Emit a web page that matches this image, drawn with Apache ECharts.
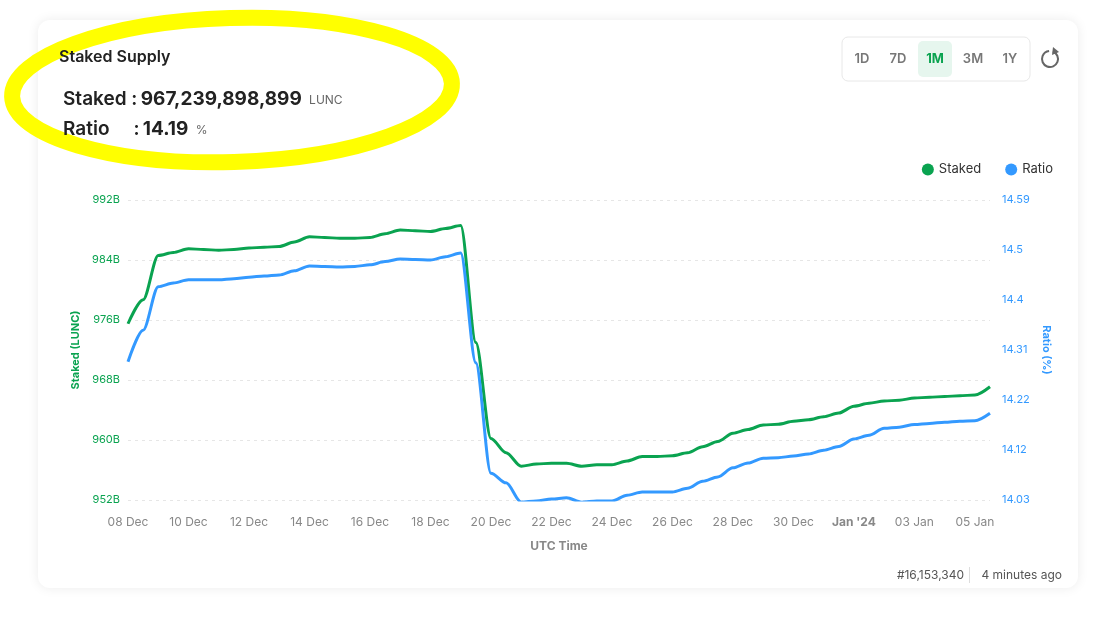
<!DOCTYPE html>
<html><head><meta charset="utf-8">
<script src="https://cdn.jsdelivr.net/npm/echarts@6/dist/echarts.min.js"></script>
<style>html,body{margin:0;padding:0;background:#fff;}#c{width:1093px;height:619px;}</style>
</head><body><div id="c"></div>
<script>
const dayLabels = ['08 Dec','09 Dec','10 Dec','11 Dec','12 Dec','13 Dec','14 Dec','15 Dec','16 Dec','17 Dec','18 Dec','19 Dec','20 Dec','21 Dec','22 Dec','23 Dec','24 Dec','25 Dec','26 Dec','27 Dec','28 Dec','29 Dec','30 Dec','31 Dec',"Jan '24",'02 Jan','03 Jan','04 Jan','05 Jan'];
const staked = [975.5,978.7,984.6,985.0,985.5,985.4,985.3,985.4,985.6,985.7,985.8,986.4,987.1,987.0,986.9,986.9,987.0,987.5,988.0,987.9,987.8,988.2,988.6,973.0,960.2,958.3,956.5,956.8,956.9,956.9,956.5,956.7,956.7,957.2,957.8,957.8,957.9,958.3,959.1,959.8,960.9,961.4,962.0,962.1,962.5,962.7,963.1,963.6,964.5,964.9,965.2,965.3,965.6,965.7,965.8,965.9,966.0,967.1];
const ratio = [14.288,14.347,14.428,14.435,14.441,14.441,14.441,14.443,14.446,14.448,14.45,14.458,14.467,14.466,14.465,14.466,14.469,14.475,14.48,14.479,14.478,14.484,14.491,14.286,14.08,14.062,14.026,14.028,14.032,14.034,14.026,14.028,14.028,14.039,14.045,14.045,14.045,14.052,14.065,14.073,14.09,14.099,14.108,14.109,14.112,14.116,14.123,14.13,14.144,14.151,14.164,14.166,14.171,14.173,14.175,14.177,14.178,14.192];
const cats = staked.map((v,i)=> i%2===0 ? dayLabels[i/2] : dayLabels[(i-1)/2]+' 12h');

const G='#0aa350', B='#3399ff';
const chart = echarts.init(document.getElementById('c'));
chart.setOption({
  animation:false,
  textStyle:{fontFamily:'Inter'},
  graphic:[
    {type:'rect',shape:{x:38,y:20,width:1040,height:568,r:12},style:{fill:'#fff',shadowBlur:12,shadowColor:'rgba(0,0,0,0.08)'},z:-10},
    {type:'ellipse',shape:{cx:232,cy:90,rx:220,ry:72},rotation:0.03,originX:232,originY:90,style:{fill:'none',stroke:'#ffff00',lineWidth:16},z:-5},
    {type:'text',left:59,top:49,style:{text:'Staked Supply',font:'600 16px Inter',fill:'#222'}},
    {type:'text',left:63,top:90,style:{text:'{a|Staked :} {b|967,239,898,899} {c|LUNC}',rich:{a:{font:'600 19px Inter',fill:'#222'},b:{font:'700 19px Inter',fill:'#222'},c:{font:'12px Inter',fill:'#666',padding:[2,0,0,4]}}}},
    {type:'text',left:63,top:120,style:{text:'{a|Ratio     :} {b|14.19} {c|%}',rich:{a:{font:'600 19px Inter',fill:'#222'},b:{font:'700 19px Inter',fill:'#222'},c:{font:'12px Inter',fill:'#666',padding:[2,0,0,4]}}}},
    {type:'rect',shape:{x:842,y:37,width:188,height:44,r:6},style:{fill:'#fff',stroke:'#e8e8e8',lineWidth:1}},
    {type:'rect',shape:{x:918,y:41,width:34,height:36,r:5},style:{fill:'#e6f6ee'}},
    {type:'text',x:862,y:59,style:{text:'1D',font:'600 13px Inter',fill:'#777',align:'center',verticalAlign:'middle'}},
    {type:'text',x:898,y:59,style:{text:'7D',font:'600 13px Inter',fill:'#777',align:'center',verticalAlign:'middle'}},
    {type:'text',x:935,y:59,style:{text:'1M',font:'700 13px Inter',fill:G,align:'center',verticalAlign:'middle'}},
    {type:'text',x:973,y:59,style:{text:'3M',font:'600 13px Inter',fill:'#777',align:'center',verticalAlign:'middle'}},
    {type:'text',x:1010,y:59,style:{text:'1Y',font:'600 13px Inter',fill:'#777',align:'center',verticalAlign:'middle'}},
    {type:'arc',shape:{cx:1050,cy:59,r:8,startAngle:-1.2,endAngle:4.6},style:{stroke:'#666',lineWidth:2,fill:'none'}},
    {type:'polygon',shape:{points:[[1053,47],[1059,52],[1052,55]]},style:{fill:'#666'}},
    {type:'text',x:964,y:575,style:{text:'#16,153,340',font:'12px Inter',fill:'#555',align:'right',verticalAlign:'middle'}},
    {type:'rect',shape:{x:969,y:567,width:1,height:16},style:{fill:'#ddd'}},
    {type:'text',x:1062,y:575,style:{text:'4 minutes ago',font:'12px Inter',fill:'#555',align:'right',verticalAlign:'middle'}}
  ],
  legend:{top:158,right:35,itemWidth:12,itemHeight:12,itemGap:24,icon:'circle',textStyle:{fontSize:13,color:'#333'},data:['Staked','Ratio']},
  grid:{left:128,right:103,top:200,bottom:119},
  tooltip:{trigger:'axis'},
  xAxis:{type:'category',data:cats,boundaryGap:false,
    axisLine:{show:false},axisTick:{show:false},
    name:'UTC Time',nameLocation:'middle',nameGap:40,nameTextStyle:{fontWeight:'bold',color:'#888',fontSize:12},
    axisLabel:{interval:(i)=>i%4===0,color:'#888',fontSize:12,margin:16,
      formatter:(v)=> v==="Jan '24" ? '{b|'+v+'}' : v, rich:{b:{fontWeight:'bold',color:'#888',fontSize:12}}}},
  yAxis:[
    {type:'value',min:952,max:992,interval:8,name:'Staked (LUNC)',nameLocation:'middle',nameGap:46,
     nameTextStyle:{color:G,fontWeight:'bold',fontSize:11},
     axisLabel:{color:G,fontSize:11,formatter:v=>v+'B'},
     splitLine:{lineStyle:{type:[3,4],color:'#e6e6e6'}}},
    {type:'value',min:14.03,max:14.59,interval:0.56/6,name:'Ratio (%)',nameLocation:'middle',nameGap:44,nameRotate:-90,
     nameTextStyle:{color:B,fontWeight:'bold',fontSize:11},
     axisLabel:{color:B,fontSize:11,margin:12,formatter:v=>String(Math.round(v*100)/100)},
     splitLine:{show:false}}
  ],
  series:[
    {name:'Staked',type:'line',data:staked,yAxisIndex:0,smooth:0.3,smoothMonotone:'x',showSymbol:false,lineStyle:{width:3,color:G},itemStyle:{color:G}},
    {name:'Ratio',type:'line',data:ratio,yAxisIndex:1,smooth:0.3,smoothMonotone:'x',showSymbol:false,lineStyle:{width:3,color:B},itemStyle:{color:B}}
  ]
});
</script></body></html>
